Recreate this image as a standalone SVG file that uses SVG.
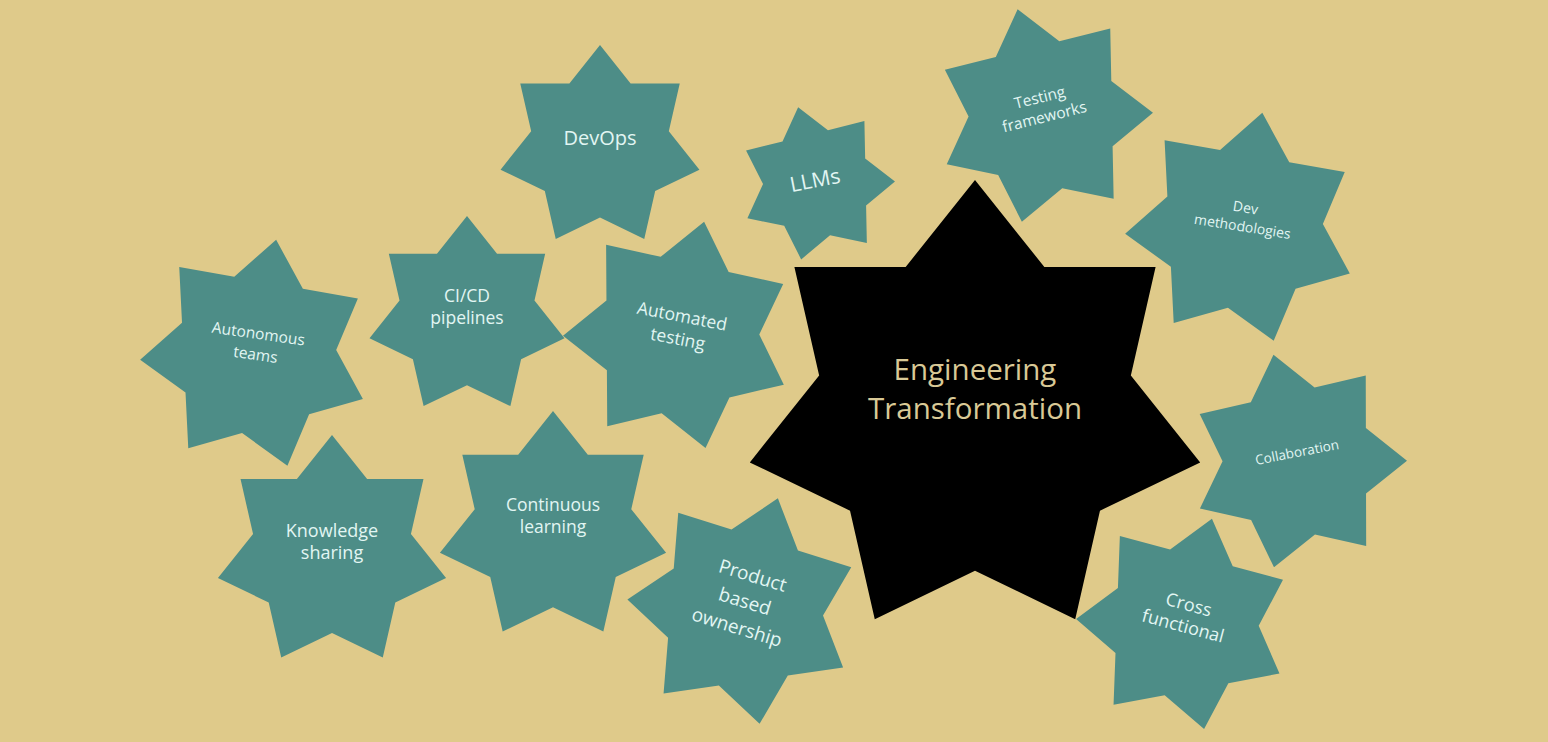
<svg xmlns="http://www.w3.org/2000/svg" xmlns:xlink="http://www.w3.org/1999/xlink" width="1548" height="742" viewBox="0 0 1548 742">
  <style>
    .star { fill: #4d8d87; }
    .core { fill: #000000; }
    .lbl { font-family: "Open Sans", "Noto Sans", sans-serif; fill: #e2f6f3; text-anchor: middle; }
    .core-lbl { font-family: "Open Sans", "Noto Sans", sans-serif; fill: #d9c996; text-anchor: middle; font-size: 29.5px; }
  </style>
  <defs>
    <path id="hept" d="M0,-100 L30.02,-62.35 L78.18,-62.35 L67.47,-15.4 L97.49,22.25 L54.1,43.15 L43.39,90.1 L0,69.2 L-43.39,90.1 L-54.1,43.15 L-97.49,22.25 L-67.47,-15.4 L-78.18,-62.35 L-30.02,-62.35 Z"/>
  </defs>
  <rect x="0" y="0" width="1548" height="742" fill="#dfca8a"/>
  <g id="connectors"/>

  <g id="devops">
    <use href="#hept" class="star" transform="translate(600,147) scale(1.02)"/>
    <text class="lbl" x="600" y="145" font-size="20">DevOps</text>
  </g>

  <g id="llms">
    <use href="#hept" class="star" transform="translate(817,183) rotate(-14) scale(0.78)"/>
    <text class="lbl" font-size="21" transform="translate(815,180) rotate(-11)" y="7.5">LLMs</text>
  </g>

  <g id="testing-frameworks">
    <use href="#hept" class="star" transform="translate(1044,115) rotate(-14) scale(1.09)"/>
    <g transform="translate(1042,107) rotate(-14)">
      <text class="lbl" font-size="15.5" y="-4.5">Testing</text>
      <text class="lbl" font-size="15.5" y="15.5">frameworks</text>
    </g>
  </g>

  <g id="dev-methodologies">
    <use href="#hept" class="star" transform="translate(1242,228) rotate(10) scale(1.17)"/>
    <g transform="translate(1244,217) rotate(9)">
      <text class="lbl" font-size="14" y="-4.5">Dev</text>
      <text class="lbl" font-size="14" y="14.5">methodologies</text>
    </g>
  </g>

  <g id="collaboration">
    <use href="#hept" class="star" transform="translate(1298,461) rotate(-13) scale(1.09)"/>
    <text class="lbl" font-size="13.5" transform="translate(1297,452) rotate(-11)" y="5">Collaboration</text>
  </g>

  <g id="cross-functional">
    <use href="#hept" class="star" transform="translate(1184,623) rotate(15) scale(1.08)"/>
    <g transform="translate(1186,615) rotate(15)">
      <text class="lbl" font-size="18" y="-4.5">Cross</text>
      <text class="lbl" font-size="18" y="17.5">functional</text>
    </g>
  </g>

  <g id="product-based-ownership">
    <use href="#hept" class="star" transform="translate(743,609) rotate(17.5) scale(1.16)"/>
    <g transform="translate(745,601) rotate(17)">
      <text class="lbl" font-size="19" y="-20">Product</text>
      <text class="lbl" font-size="19" y="7">based</text>
      <text class="lbl" font-size="19" y="34">ownership</text>
    </g>
  </g>

  <g id="automated-testing">
    <use href="#hept" class="star" transform="translate(679,335) rotate(12.5) scale(1.16)"/>
    <g transform="translate(680,327) rotate(11)">
      <text class="lbl" font-size="17.5" y="-5">Automated</text>
      <text class="lbl" font-size="17.5" y="18">testing</text>
    </g>
  </g>

  <g id="cicd-pipelines">
    <use href="#hept" class="star" transform="translate(467,316) scale(1.0)"/>
    <text class="lbl" font-size="17.5" x="467" y="302">CI/CD</text>
    <text class="lbl" font-size="17.5" x="467" y="324">pipelines</text>
  </g>

  <g id="autonomous-teams">
    <use href="#hept" class="star" transform="translate(256,354) rotate(10) scale(1.16)"/>
    <g transform="translate(257,344) rotate(8)">
      <text class="lbl" font-size="15.5" y="-5">Autonomous</text>
      <text class="lbl" font-size="15.5" y="16">teams</text>
    </g>
  </g>

  <g id="knowledge-sharing">
    <use href="#hept" class="star" transform="translate(332,552) scale(1.17)"/>
    <text class="lbl" font-size="18" x="332" y="536.5">Knowledge</text>
    <text class="lbl" font-size="18" x="332" y="559">sharing</text>
  </g>

  <g id="continuous-learning">
    <use href="#hept" class="star" transform="translate(553,527) scale(1.16)"/>
    <text class="lbl" font-size="17.5" x="553" y="511">Continuous</text>
    <text class="lbl" font-size="17.5" x="553" y="533">learning</text>
  </g>

  <g id="engineering-transformation">
    <use href="#hept" class="core" transform="translate(975,411) scale(2.31)"/>
    <text class="core-lbl" x="975" y="380">Engineering</text>
    <text class="core-lbl" x="975" y="419">Transformation</text>
  </g>
</svg>
